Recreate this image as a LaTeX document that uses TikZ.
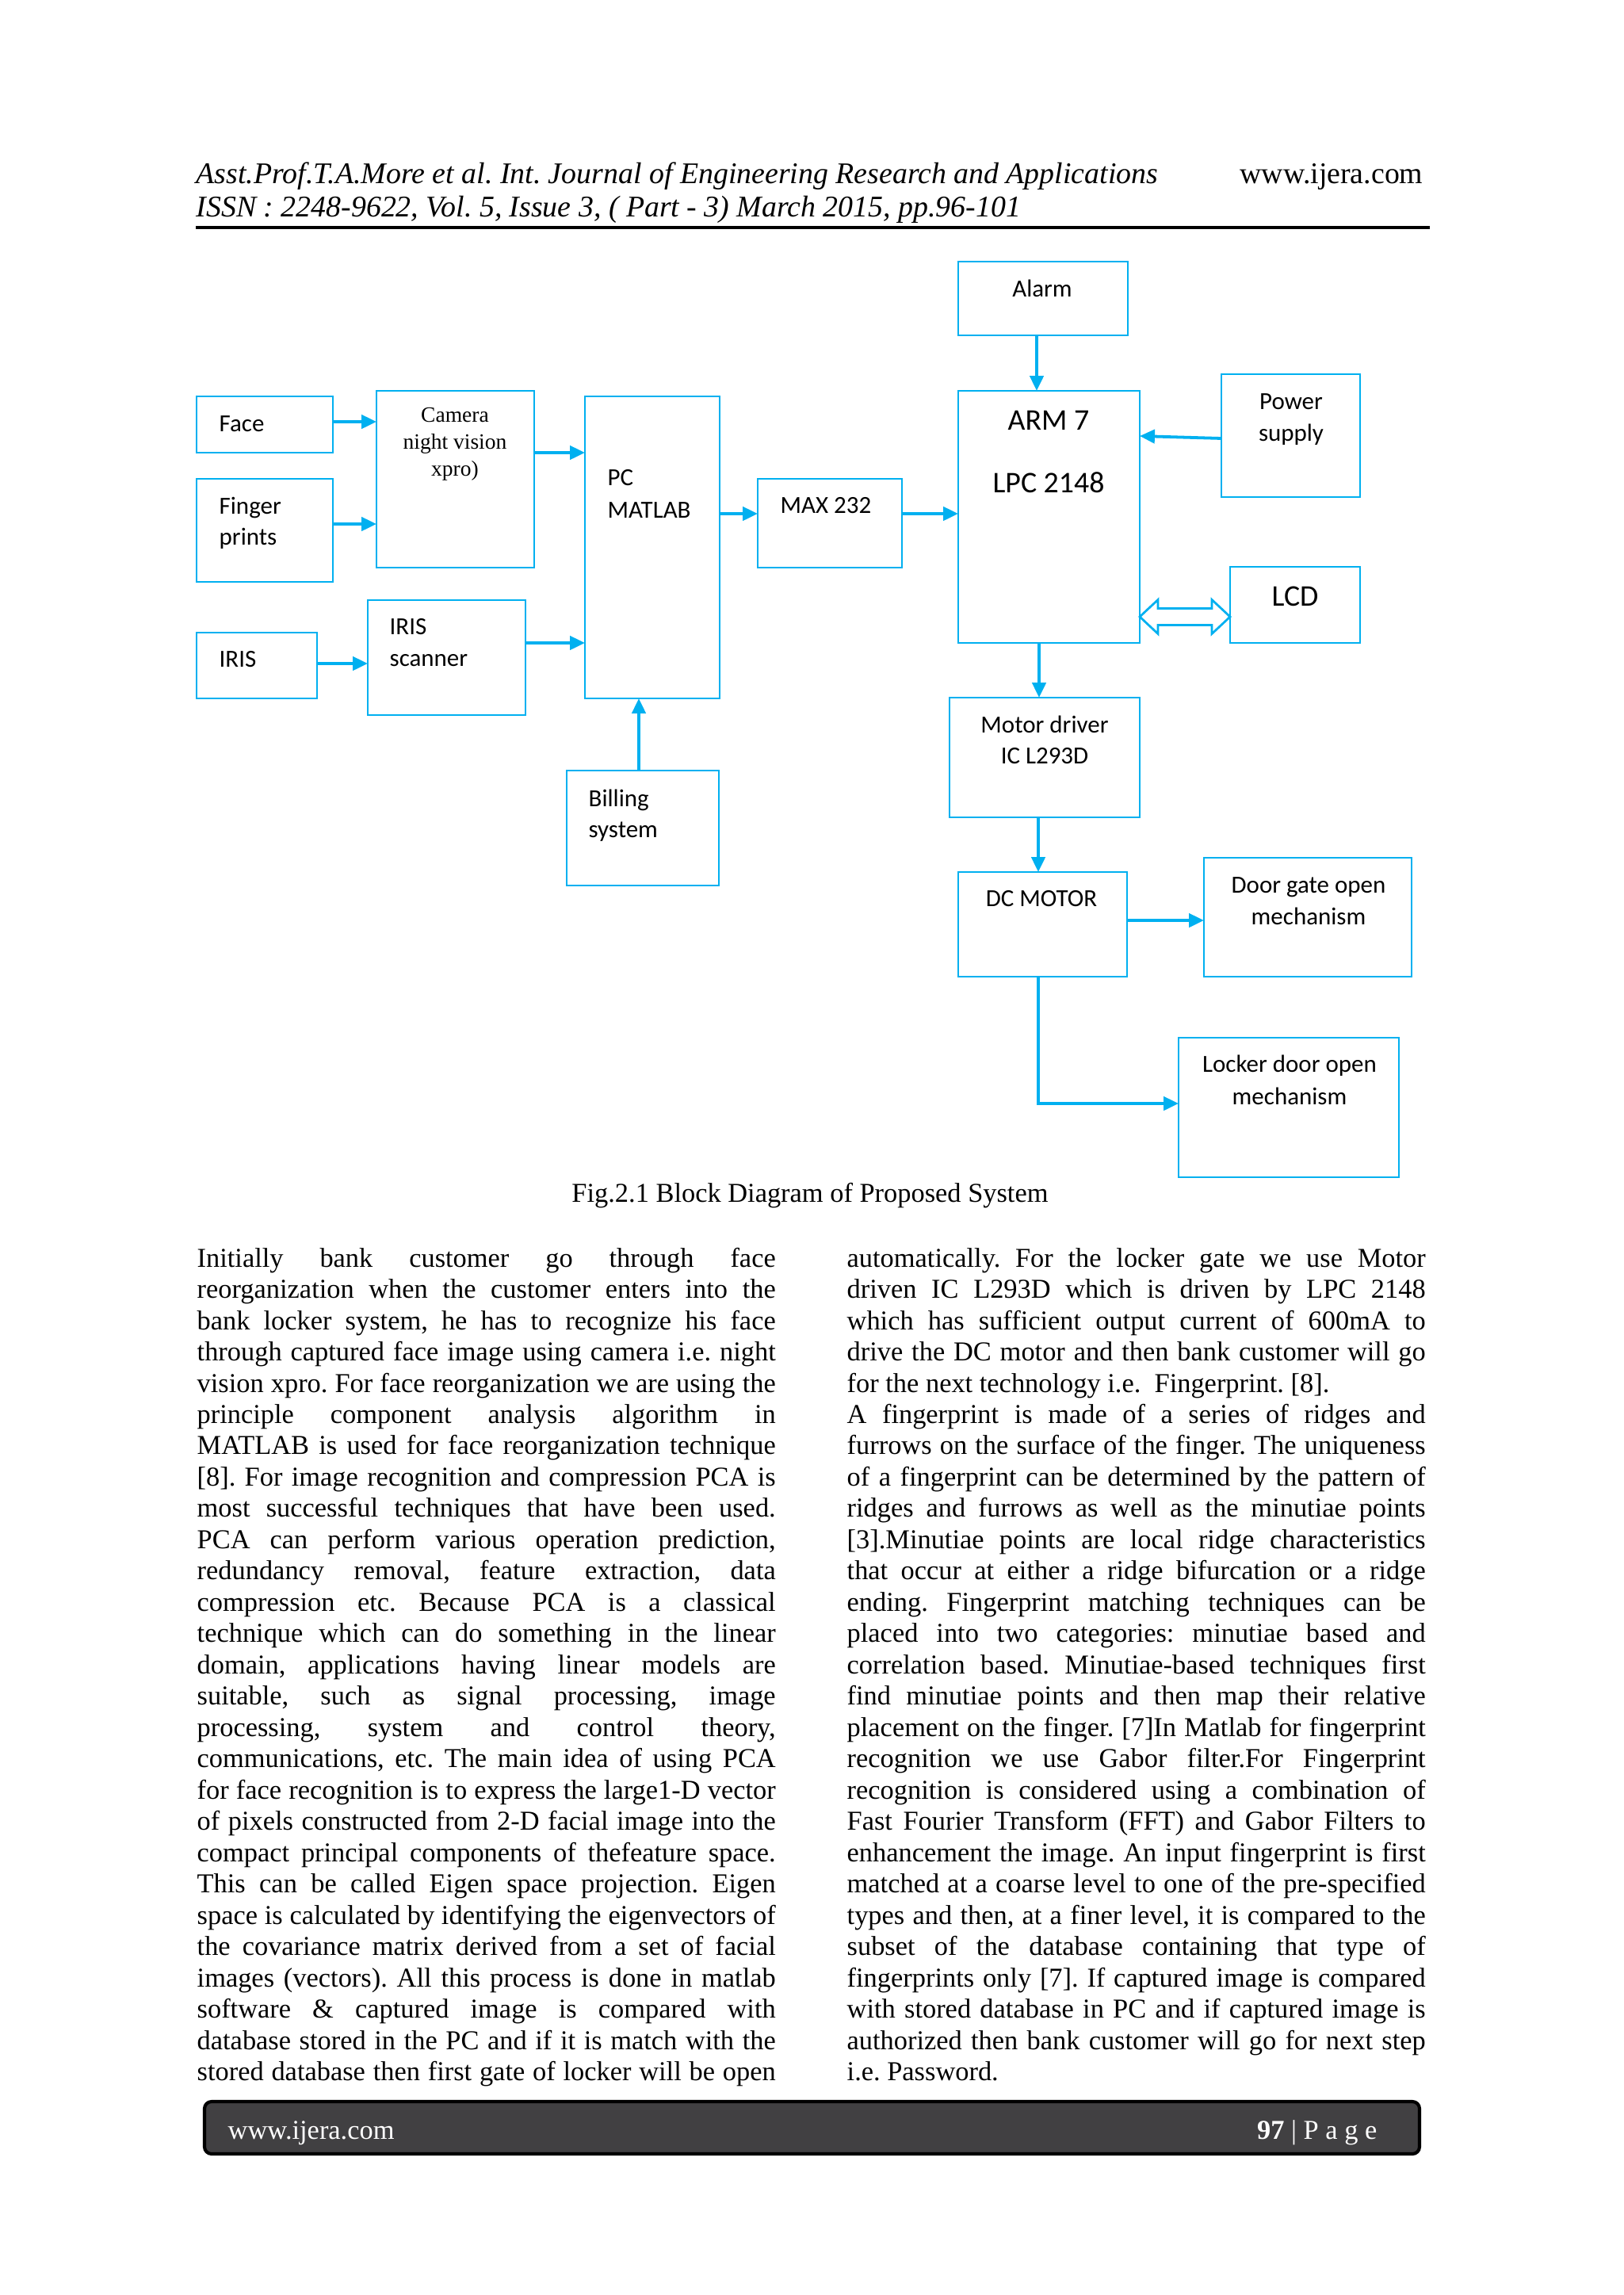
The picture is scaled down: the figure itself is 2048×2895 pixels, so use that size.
\documentclass[tikz,border=0pt]{standalone}
\usepackage{fontspec}
\setmainfont{Liberation Serif}
\newfontfamily\calib{Carlito}
\usetikzlibrary{arrows.meta,calc}
\definecolor{cy}{RGB}{0,176,240}
\definecolor{fg}{RGB}{65,64,66}
\newlength\colw
\setlength\colw{212.2pt}
\newcommand\jl[1]{\makebox[\linewidth][s]{#1}\par}
\newcommand\nl[1]{\mbox{#1}\par}
\def\pxu{0.29067}
\newcommand\mybox[5]{\node[box, minimum width={(#4-#2)*\pxu}, minimum height={(#5-#3)*\pxu}] (#1) at ({(#2+#4)/2},{(#3+#5)/2}) {};}
\frenchspacing
\begin{document}
\begin{tikzpicture}[x=0.29067pt, y=-0.29067pt,
  box/.style={draw=cy, line width=0.8pt, inner sep=0pt, outer sep=0pt, rectangle, fill=white},
  arr/.style={draw=cy, line width=1.1pt, -{Triangle[length=5.5pt,width=5pt]}},
  lb/.style={inner sep=0pt, font=\calib\fontsize{9}{11}\selectfont},
  lbb/.style={inner sep=0pt, font=\calib\fontsize{11}{13}\selectfont},
  lbs/.style={inner sep=0pt, font=\fontsize{8}{10}\selectfont},
  hd/.style={inner sep=0pt, font=\fontsize{11}{13}\selectfont\itshape\frenchspacing},
  hdu/.style={inner sep=0pt, font=\fontsize{11}{13}\selectfont},
  body/.style={inner sep=0pt, font=\fontsize{10}{11.48}\selectfont\frenchspacing}]
\useasboundingbox (0,0) rectangle (2048,2895);
\fill[white] (0,0) rectangle (2048,2895);

% header
\node[hd, anchor=base west] (h1) at (247,231) {Asst.Prof.T.A.More et al. Int. Journal of Engineering Research and Applications};
\node[hdu, anchor=base east] (h3) at (1796,231) {www.ijera.com};
\node[hd, anchor=base west] (h2) at (247,273) {ISSN : 2248-9622, Vol. 5, Issue 3, ( Part - 3) March 2015, pp.96-101};
\draw[line width=1pt] (247,287) -- (1804,287);

% boxes
\mybox{face}{248}{500}{420}{571}
\mybox{camera}{475}{493}{674}{716}
\mybox{finger}{248}{604}{420}{734}
\mybox{iris}{248}{798}{400}{881}
\mybox{scanner}{464}{757}{663}{902}
\mybox{pc}{738}{500}{908}{881}
\mybox{billing}{715}{972}{907}{1117}
\mybox{max}{956}{604}{1138}{716}
\mybox{alarm}{1209}{330}{1423}{423}
\mybox{arm}{1209}{493}{1438}{811}
\mybox{power}{1541}{472}{1716}{627}
\mybox{lcd}{1552}{715}{1716}{811}
\mybox{motor}{1198}{880}{1438}{1031}
\mybox{dc}{1209}{1100}{1422}{1232}
\mybox{door}{1519}{1082}{1781}{1232}
\mybox{locker}{1487}{1309}{1765}{1485}

% labels
\node[lb, anchor=base west] (faceT) at (276,544) {Face};
\node[lb, anchor=base west] (fingerT1) at (276,648) {Finger};
\node[lb, anchor=base west] (fingerT2) at (276,687) {prints};
\node[lbs, anchor=base] (camT1) at (574,532) {Camera};
\node[lbs, anchor=base] (camT2) at (574,566) {night vision};
\node[lbs, anchor=base] (camT3) at (574,600) {xpro)};
\node[lb, anchor=base west] (pcT1) at (766,612) {PC};
\node[lb, anchor=base west] (pcT2) at (766,653) {MATLAB};
\node[lb, anchor=base west] (irisT) at (276,841) {IRIS};
\node[lb, anchor=base west] (scanT1) at (491,800) {IRIS};
\node[lb, anchor=base west] (scanT2) at (491,840) {scanner};
\node[lb, anchor=base west] (billT1) at (742,1017) {Billing};
\node[lb, anchor=base west] (billT2) at (742,1056) {system};
\node[lb, anchor=base west] (maxT) at (984,647) {MAX 232};
\node[lb, anchor=base] (alarmT) at (1315,374) {Alarm};
\node[lbb, anchor=base] (armT1) at (1323,542) {ARM 7};
\node[lbb, anchor=base] (armT2) at (1323,621) {LPC 2148};
\node[lb, anchor=base] (powT1) at (1629,516) {Power};
\node[lb, anchor=base] (powT2) at (1629,556) {supply};
\node[lbb, anchor=base] (lcdT) at (1634,764) {LCD};
\node[lb, anchor=base] (motT1) at (1318,924) {Motor driver};
\node[lb, anchor=base] (motT2) at (1318,963) {IC L293D};
\node[lb, anchor=base] (dcT) at (1314,1143) {DC MOTOR};
\node[lb, anchor=base] (doorT1) at (1651,1126) {Door gate open};
\node[lb, anchor=base] (doorT2) at (1651,1166) {mechanism};
\node[lb, anchor=base] (lockT1) at (1627,1352) {Locker door open};
\node[lb, anchor=base] (lockT2) at (1627,1393) {mechanism};

% connectors
\draw[arr] (face.east |- 0,532) -- (camera.west |- 0,532);
\draw[arr] (finger.east |- 0,661) -- (camera.west |- 0,661);
\draw[arr] (camera.east |- 0,571) -- (pc.west |- 0,571);
\draw[arr] (iris.east |- 0,837) -- (scanner.west |- 0,837);
\draw[arr] (scanner.east |- 0,811) -- (pc.west |- 0,811);
\draw[arr] (pc.east |- 0,648) -- (max.west |- 0,648);
\draw[arr] (max.east |- 0,648) -- (arm.west |- 0,648);
\draw[arr] (billing.north -| 806,0) -- (pc.south -| 806,0);
\draw[arr] (alarm.south -| 1308,0) -- (arm.north -| 1308,0);
\draw[arr] (power.west |- 0,553) -- (arm.east |- 0,550);
\draw[arr] (arm.south -| 1311,0) -- (motor.north -| 1311,0);
\draw[arr] (motor.south -| 1310,0) -- (dc.north -| 1310,0);
\draw[arr] (dc.east |- 0,1161) -- (door.west |- 0,1161);
\draw[arr] (dc.south -| 1310,0) |- (locker.west |- 0,1392);

% double block arrow ARM <-> LCD
\coordinate (dl) at (arm.east |- 0,778);
\coordinate (dr) at (lcd.west |- 0,778);
\draw[draw=cy, line width=0.8pt, fill=white, line join=miter]
  (dl) -- ++(23,-21.5) -- ++(0,11) -- ($(dr)+(-23,-10.5)$) -- ++(0,-11) -- (dr)
  -- ++(-23,21.5) -- ++(0,-11) -- ($(dl)+(23,10.5)$) -- ++(0,11) -- cycle;

% caption
\node[body, anchor=base] (cap) at (1022,1516) {Fig.2.1 Block Diagram of Proposed System};

% left column
\node[body, anchor=base west] (colL) at (248,1598) {\parbox[t]{\colw}{\fontsize{10}{11.48}\selectfont\frenchspacing\parindent=0pt
\jl{Initially bank customer go through face}
\jl{reorganization when the customer enters into the}
\jl{bank locker system, he has to recognize his face}
\jl{through captured face image using camera i.e. night}
\jl{vision xpro. For face reorganization we are using the}
\jl{principle component analysis algorithm in}
\jl{MATLAB is used for face reorganization technique}
\jl{[8]. For image recognition and compression PCA is}
\jl{most successful techniques that have been used.}
\jl{PCA can perform various operation prediction,}
\jl{redundancy removal, feature extraction, data}
\jl{compression etc. Because PCA is a classical}
\jl{technique which can do something in the linear}
\jl{domain, applications having linear models are}
\jl{suitable, such as signal processing, image}
\jl{processing, system and control theory,}
\jl{communications, etc. The main idea of using PCA}
\jl{for face recognition is to express the large1-D vector}
\jl{of pixels constructed from 2-D facial image into the}
\jl{compact principal components of thefeature space.}
\jl{This can be called Eigen space projection. Eigen}
\jl{space is calculated by identifying the eigenvectors of}
\jl{the covariance matrix derived from a set of facial}
\jl{images (vectors). All this process is done in matlab}
\jl{software \& captured image is compared with}
\jl{database stored in the PC and if it is match with the}
\jl{stored database then first gate of locker will be open}}};

% right column
\node[body, anchor=base west] (colR) at (1068,1598) {\parbox[t]{\colw}{\fontsize{10}{11.48}\selectfont\frenchspacing\parindent=0pt
\jl{automatically. For the locker gate we use Motor}
\jl{driven IC L293D which is driven by LPC 2148}
\jl{which has sufficient output current of 600mA to}
\jl{drive the DC motor and then bank customer will go}
\nl{for the next technology i.e.\ \ Fingerprint. [8].}
\jl{A fingerprint is made of a series of ridges and}
\jl{furrows on the surface of the finger. The uniqueness}
\jl{of a fingerprint can be determined by the pattern of}
\jl{ridges and furrows as well as the minutiae points}
\jl{[3].Minutiae points are local ridge characteristics}
\jl{that occur at either a ridge bifurcation or a ridge}
\jl{ending. Fingerprint matching techniques can be}
\jl{placed into two categories: minutiae based and}
\jl{correlation based. Minutiae-based techniques first}
\jl{find minutiae points and then map their relative}
\jl{placement on the finger. [7]In Matlab for fingerprint}
\jl{recognition we use Gabor filter.For Fingerprint}
\jl{recognition is considered using a combination of}
\jl{Fast Fourier Transform (FFT) and Gabor Filters to}
\jl{enhancement the image. An input fingerprint is first}
\jl{matched at a coarse level to one of the pre-specified}
\jl{types and then, at a finer level, it is compared to the}
\jl{subset of the database containing that type of}
\jl{fingerprints only [7]. If captured image is compared}
\jl{with stored database in PC and if captured image is}
\jl{authorized then bank customer will go for next step}
\nl{i.e. Password.}}};

% footer
\draw[fill=fg, draw=black, line width=1.2pt, rounded corners=2.6pt] (258,2651) rectangle (1791,2717);
\node[body, anchor=base west, text=white] (fl) at (287,2698) {www.ijera.com};
\node[body, anchor=base east, text=white] (fr) at (1738,2698) {\textbf{97} | P a g e};
\end{tikzpicture}
\end{document}
